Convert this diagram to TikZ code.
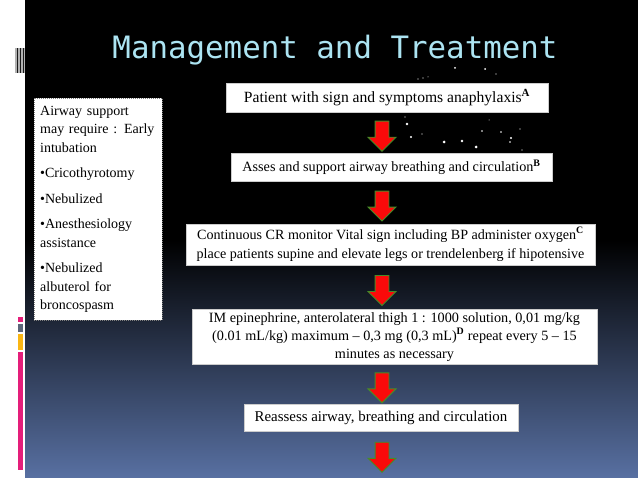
\documentclass[tikz,border=0pt]{standalone}
\usepackage{fontspec}
\setmainfont{Liberation Serif}
\newfontfamily\titlefont{DejaVu Sans Mono}
\usetikzlibrary{positioning,shapes.arrows,calc}
\definecolor{TitleCyan}{RGB}{172,228,242}
\definecolor{SlideBlue}{RGB}{88,112,162}
\definecolor{FlowRed}{RGB}{250,10,10}
\definecolor{FlowGreen}{RGB}{70,140,40}
\definecolor{TabPink}{RGB}{228,30,122}
\definecolor{TabGray}{RGB}{92,102,122}
\definecolor{TabYellow}{RGB}{250,182,20}
\newcommand{\note}[1]{\textsuperscript{\textbf{#1}}}

\begin{document}
\begin{tikzpicture}[x=1pt,y=-1pt,
  box/.style={fill=white,draw=gray!40,inner sep=2pt,align=center,font=\fontsize{14.2}{19}\selectfont},
  downarrow/.style={single arrow,rotate=-90,fill=FlowRed,draw=FlowGreen,line width=0.9pt,
    minimum height=30pt,inner sep=6.5pt,single arrow head extend=7pt}]
\useasboundingbox (0,0) rectangle (638,478);
% slide background
\fill[white] (0,0) rectangle (638,478);
\fill[black] (25,0) rectangle (638,240);
\shade[top color=black,bottom color=SlideBlue] (25,240) rectangle (638,478);
\fill[gray!60] (15,48) rectangle (25,73);
\foreach \sx in {16.5,19.5,22.5} \fill[gray!20!black] (\sx,48) rectangle (\sx+1.2,73);
\fill[TabPink] (18,317) rectangle (23,322);
\fill[TabGray] (18,324) rectangle (23,332);
\fill[TabYellow] (18,334) rectangle (23,350);
\fill[TabPink] (18,352) rectangle (23,470);
% stars
\foreach \px/\py/\pr in {455/68/1,485/69/1,496/74/0.7,418/79/0.6,423/78/0.6,428/77/0.5,
  407/124/1.3,405/117/0.7,411/137/1.2,422/134/0.6,444/142/1.5,462/141/1.3,476/147/1.5,
  482/131/0.8,489/120/0.5,501/132/0.8,511/138/1.1,510/142/0.8,520/129/0.6,522/150/0.6}
  \fill[white] (\px,\py) circle (\pr);

\node[text=TitleCyan,font=\titlefont\fontsize{30.8}{32}\selectfont,anchor=base] (title) at (335,59) {Management and Treatment};

\node[box,minimum width=322pt,minimum height=29pt,font=\fontsize{15.6}{19}\selectfont] (pat) at (387,97.5) {Patient with sign and symptoms anaphylaxis\note{A}};
\node[box,minimum width=321pt,minimum height=28pt,below=41pt of pat,xshift=4.5pt] (asses) {Asses and support airway breathing and circulation\note{B}};
\node[box,minimum width=409pt,minimum height=41pt,below=42pt of asses,xshift=-1pt,font=\fontsize{14.1}{19}\selectfont] (cont) {Continuous CR monitor Vital sign including BP administer oxygen\note{C}\\place patients supine and elevate legs or trendelenberg if hipotensive};
\node[box,minimum width=405pt,minimum height=55pt,below=44pt of cont,xshift=4pt,font=\fontsize{14.2}{18}\selectfont] (epi) {IM epinephrine, anterolateral thigh 1 : 1000 solution, 0,01 mg/kg\\(0.01 mL/kg) maximum -- 0,3 mg (0,3 mL)\note{D} repeat every 5 -- 15\\minutes as necessary};
\node[box,minimum width=274pt,minimum height=27pt,below=40pt of epi,xshift=-13.5pt,font=\fontsize{14.9}{18}\selectfont] (reas) {Reassess airway, breathing and circulation};

\node[draw=gray,dash pattern=on 1pt off 1pt,fill=white,align=left,anchor=north west,
  text width=116pt,minimum height=222pt,inner sep=6pt,
  font=\fontsize{14}{18.5}\selectfont] (side) at (34,98) {Airway support\\may require : Early\\intubation\\[7pt]
  •Cricothyrotomy\\[7pt]•Nebulized\\[7pt]•Anesthesiology\\assistance\\[7pt]•Nebulized\\albuterol for\\broncospasm};

\coordinate (axis) at (382,0);
\node[downarrow] (ar1) at ($(axis |- pat.south)!.5!(axis |- asses.north)$) {};
\node[downarrow] (ar2) at ($(axis |- asses.south)!.5!(axis |- cont.north)$) {};
\node[downarrow] (ar3) at ($(axis |- cont.south)!.5!(axis |- epi.north)$) {};
\node[downarrow] (ar4) at ($(axis |- epi.south)!.5!(axis |- reas.north)$) {};
\node[downarrow] (ar5) at ($(axis |- reas.south)+(0,22)$) {};
\end{tikzpicture}
\end{document}
